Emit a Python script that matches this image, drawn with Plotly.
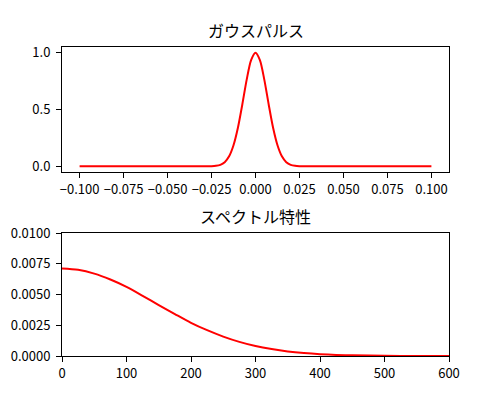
import plotly.graph_objects as go

# Gaussian pulse (time [s], amplitude)
pulse_t = [-0.100, -0.050, -0.030, -0.025, -0.0225, -0.020, -0.0175, -0.015, -0.0125, -0.010,
           -0.0075, -0.005, -0.0025, 0.0, 0.0025, 0.005, 0.0075, 0.010, 0.0125, 0.015,
           0.0175, 0.020, 0.0225, 0.025, 0.030, 0.050, 0.100]
pulse_a = [0.0, 0.0, 0.0, 0.0012, 0.0042, 0.0132, 0.0364, 0.0877, 0.185, 0.339,
           0.544, 0.763, 0.935, 1.0, 0.935, 0.763, 0.544, 0.339, 0.185, 0.0877,
           0.0364, 0.0132, 0.0042, 0.0012, 0.0, 0.0, 0.0]

# Spectrum (frequency [Hz], magnitude)
spec_f = [0, 25, 50, 75, 100, 125, 150, 175, 200, 225, 250, 275, 300,
          325, 350, 375, 400, 425, 450, 500, 550, 600]
spec_a = [0.00712, 0.00701, 0.00670, 0.00622, 0.00562, 0.00489, 0.00414, 0.00341, 0.00270,
          0.00210, 0.00158, 0.00115, 0.00081, 0.00056, 0.00037, 0.00024, 0.00015,
          0.000091, 0.000054, 0.000017, 0.000005, 0.000001]

top_xticks = [-0.100, -0.075, -0.050, -0.025, 0.0, 0.025, 0.050, 0.075, 0.100]
top_yticks = [0.0, 0.5, 1.0]
bot_xticks = [0, 100, 200, 300, 400, 500, 600]
bot_yticks = [0.0, 0.0025, 0.0050, 0.0075, 0.0100]

title_top = "ガウスパルス"
title_bot = "スペクトル特性"

FONT = "Noto Sans CJK JP"

fig = go.Figure()
fig.add_trace(go.Scatter(x=pulse_t, y=pulse_a, mode="lines", line=dict(color="red", width=2, shape="spline", smoothing=0.8),
                         xaxis="x", yaxis="y", showlegend=False))
fig.add_trace(go.Scatter(x=spec_f, y=spec_a, mode="lines", line=dict(color="red", width=2, shape="spline", smoothing=0.8),
                         xaxis="x2", yaxis="y2", showlegend=False))

axis_common = dict(showline=True, linecolor="black", linewidth=1, mirror=True, ticks="outside",
                   ticklen=5, tickcolor="black", showgrid=False, zeroline=False, automargin=False,
                   tickfont=dict(family=FONT, size=13, color="black"))

fig.update_layout(
    width=500, height=400,
    margin=dict(l=0, r=0, t=0, b=0),
    paper_bgcolor="white", plot_bgcolor="white",
    xaxis=dict(domain=[0.108, 0.882], anchor="y", range=[-0.11, 0.11],
               tickvals=top_xticks, tickformat=".3f", **axis_common),
    yaxis=dict(domain=[0.59, 0.9025], anchor="x", range=[-0.05, 1.05],
               tickvals=top_yticks, tickformat=".1f", ticklabelstandoff=3, **axis_common),
    xaxis2=dict(domain=[0.108, 0.882], anchor="y2", range=[0, 600],
                tickvals=bot_xticks, tickformat="d", **axis_common),
    yaxis2=dict(domain=[0.13, 0.4375], anchor="x2", range=[0, 0.01],
                tickvals=bot_yticks, tickformat=".4f", ticklabelstandoff=3, **axis_common),
    annotations=[
        dict(text=title_top, x=0.495, y=0.9025, xref="paper", yref="paper", xanchor="center",
             yanchor="bottom", yshift=3, showarrow=False, font=dict(family=FONT, size=16, color="black")),
        dict(text=title_bot, x=0.495, y=0.4375, xref="paper", yref="paper", xanchor="center",
             yanchor="bottom", yshift=3, showarrow=False, font=dict(family=FONT, size=16, color="black")),
    ],
)

fig.write_html("out.html")
